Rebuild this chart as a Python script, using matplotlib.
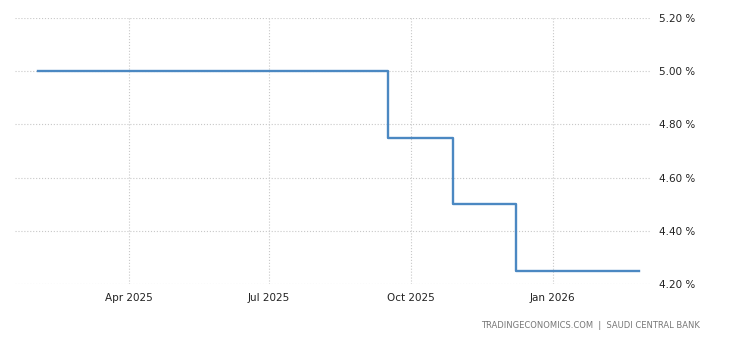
import numpy as np
import pandas as pd
import matplotlib
matplotlib.use('Agg')
import matplotlib.pyplot as plt
import matplotlib.dates as mdates

# Dados (taxa de juros, %)
datas = pd.to_datetime(['2025-02-01', '2025-09-16', '2025-10-28', '2025-12-08', '2026-02-26'])
taxas = [5.00, 4.75, 4.50, 4.25, 4.25]
ticks_x = pd.to_datetime(['2025-04-01', '2025-07-01', '2025-10-01', '2026-01-01'])
rotulos_x = ['Apr 2025', 'Jul 2025', 'Oct 2025', 'Jan 2026']
ticks_y = [4.20, 4.40, 4.60, 4.80, 5.00, 5.20]

fig = plt.figure(figsize=(7.3, 3.4), dpi=100)
ax = fig.add_axes([0.0205, 0.1647, 0.8695, 0.7823])

ax.plot(datas, taxas, drawstyle='steps-post', color='#4b88c2', linewidth=1.7)

ax.set_xlim(pd.Timestamp('2025-01-17'), pd.Timestamp('2026-03-05'))
ax.set_ylim(4.2, 5.2)

ax.set_xticks(ticks_x)
ax.set_xticklabels(rotulos_x)
ax.set_yticks(ticks_y)
ax.set_yticklabels(['%.2f %%' % v for v in ticks_y])
ax.yaxis.tick_right()

ax.grid(True, linestyle=':', color='#c8c8c8', linewidth=0.8)
ax.set_axisbelow(True)
for s in ax.spines.values():
    s.set_visible(False)
ax.tick_params(axis='both', length=0, labelsize=7.5, colors='#222222')
ax.tick_params(axis='x', pad=6.5)
ax.tick_params(axis='y', pad=7)

fig.text(0.959, 0.043, 'TRADINGECONOMICS.COM  |  SAUDI CENTRAL BANK',
         ha='right', va='center', fontsize=6, color='#777777')

fig.savefig('out.png', dpi=100)
